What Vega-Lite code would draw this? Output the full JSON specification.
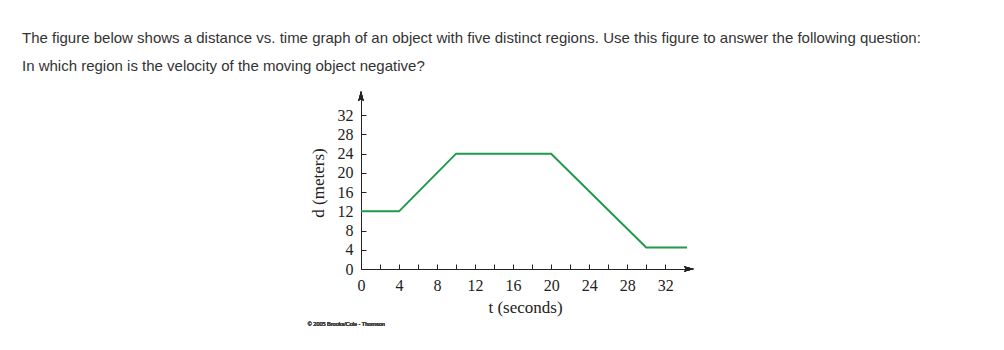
{
  "$schema": "https://vega.github.io/schema/vega-lite/v6.json",
  "width": 328,
  "height": 173,
  "autosize": {"type": "none"},
  "padding": {"left": 361, "top": 96, "right": 315, "bottom": 81},
  "background": "white",
  "title": {
    "text": "The figure below shows a distance vs. time graph of an object with five distinct regions. Use this figure to answer the following question:",
    "subtitle": "In which region is the velocity of the moving object negative?",
    "anchor": "start",
    "frame": "group",
    "dx": -339,
    "offset": 17,
    "font": "Liberation Sans",
    "fontSize": 15,
    "fontWeight": "normal",
    "color": "#333333",
    "subtitleFont": "Liberation Sans",
    "subtitleFontSize": 15,
    "subtitleColor": "#333333",
    "subtitlePadding": 13
  },
  "config": {"view": {"stroke": null}},
  "data": {
    "values": [
      {"t": 0, "d": 12},
      {"t": 4, "d": 12},
      {"t": 10, "d": 24},
      {"t": 20, "d": 24},
      {"t": 30, "d": 4.5},
      {"t": 34.3, "d": 4.5}
    ]
  },
  "layer": [
    {
      "mark": {"type": "line", "color": "#1f9a4a", "strokeWidth": 2},
      "encoding": {
        "x": {
          "field": "t", "type": "quantitative",
          "scale": {"domain": [0, 34.5], "nice": false, "zero": false},
          "axis": {
            "title": "t (seconds)",
            "titleFont": "Liberation Serif", "titleFontSize": 17, "titleFontWeight": "normal", "titleColor": "#222222",
            "titlePadding": 6,
            "values": [0, 2, 4, 6, 8, 10, 12, 14, 16, 18, 20, 22, 24, 26, 28, 30, 32],
            "labelExpr": "datum.value % 4 == 0 ? datum.label : ''",
            "labelFont": "Liberation Serif", "labelFontSize": 16, "labelColor": "#222222",
            "tickSize": -5, "tickColor": "#222222", "domainColor": "#222222",
            "labelPadding": 13, "grid": false, "labelFlush": false, "labelOverlap": false
          }
        },
        "y": {
          "field": "d", "type": "quantitative",
          "scale": {"domain": [0, 36], "nice": false},
          "axis": {
            "title": "d (meters)",
            "titleFont": "Liberation Serif", "titleFontSize": 17, "titleFontWeight": "normal", "titleColor": "#222222",
            "titlePadding": 10,
            "values": [0, 4, 8, 12, 16, 20, 24, 28, 32],
            "labelFont": "Liberation Serif", "labelFontSize": 16, "labelColor": "#222222",
            "tickSize": -5, "tickColor": "#222222", "domainColor": "#222222",
            "labelPadding": 13, "grid": false, "labelFlush": false, "labelOverlap": false
          }
        }
      }
    },
    {
      "mark": {"type": "point", "shape": "M-1,-0.55L1,0L-1,0.55L-0.6,0Z", "filled": true, "color": "#222222", "size": 100, "opacity": 1},
      "encoding": {
        "x": {"datum": 34.5, "type": "quantitative", "scale": {"domain": [0, 34.5], "nice": false, "zero": false},
          "axis": {
            "title": "t (seconds)",
            "titleFont": "Liberation Serif", "titleFontSize": 17, "titleFontWeight": "normal", "titleColor": "#222222",
            "titlePadding": 6,
            "values": [0, 2, 4, 6, 8, 10, 12, 14, 16, 18, 20, 22, 24, 26, 28, 30, 32],
            "labelExpr": "datum.value % 4 == 0 ? datum.label : ''",
            "labelFont": "Liberation Serif", "labelFontSize": 16, "labelColor": "#222222",
            "tickSize": -5, "tickColor": "#222222", "domainColor": "#222222",
            "labelPadding": 13, "grid": false, "labelFlush": false, "labelOverlap": false
          }},
        "y": {"datum": 0, "type": "quantitative", "scale": {"domain": [0, 36], "nice": false},
          "axis": {
            "title": "d (meters)",
            "titleFont": "Liberation Serif", "titleFontSize": 17, "titleFontWeight": "normal", "titleColor": "#222222",
            "titlePadding": 10,
            "values": [0, 4, 8, 12, 16, 20, 24, 28, 32],
            "labelFont": "Liberation Serif", "labelFontSize": 16, "labelColor": "#222222",
            "tickSize": -5, "tickColor": "#222222", "domainColor": "#222222",
            "labelPadding": 13, "grid": false, "labelFlush": false, "labelOverlap": false
          }}
      }
    },
    {
      "mark": {"type": "point", "shape": "M-0.55,1L0,-1L0.55,1L0,0.6Z", "filled": true, "color": "#222222", "size": 100, "opacity": 1},
      "encoding": {
        "x": {"datum": 0, "type": "quantitative", "scale": {"domain": [0, 34.5], "nice": false, "zero": false},
          "axis": {
            "title": "t (seconds)",
            "titleFont": "Liberation Serif", "titleFontSize": 17, "titleFontWeight": "normal", "titleColor": "#222222",
            "titlePadding": 6,
            "values": [0, 2, 4, 6, 8, 10, 12, 14, 16, 18, 20, 22, 24, 26, 28, 30, 32],
            "labelExpr": "datum.value % 4 == 0 ? datum.label : ''",
            "labelFont": "Liberation Serif", "labelFontSize": 16, "labelColor": "#222222",
            "tickSize": -5, "tickColor": "#222222", "domainColor": "#222222",
            "labelPadding": 13, "grid": false, "labelFlush": false, "labelOverlap": false
          }},
        "y": {"datum": 36, "type": "quantitative", "scale": {"domain": [0, 36], "nice": false},
          "axis": {
            "title": "d (meters)",
            "titleFont": "Liberation Serif", "titleFontSize": 17, "titleFontWeight": "normal", "titleColor": "#222222",
            "titlePadding": 10,
            "values": [0, 4, 8, 12, 16, 20, 24, 28, 32],
            "labelFont": "Liberation Serif", "labelFontSize": 16, "labelColor": "#222222",
            "tickSize": -5, "tickColor": "#222222", "domainColor": "#222222",
            "labelPadding": 13, "grid": false, "labelFlush": false, "labelOverlap": false
          }}
      }
    },
    {
      "mark": {"type": "text", "text": "© 2005 Brooks/Cole - Thomson", "align": "left", "baseline": "alphabetic", "font": "Liberation Sans", "fontSize": 5.5, "color": "#444444", "clip": false},
      "encoding": {
        "x": {"datum": -5.6, "type": "quantitative", "scale": {"domain": [0, 34.5], "nice": false, "zero": false},
          "axis": {
            "title": "t (seconds)",
            "titleFont": "Liberation Serif", "titleFontSize": 17, "titleFontWeight": "normal", "titleColor": "#222222",
            "titlePadding": 6,
            "values": [0, 2, 4, 6, 8, 10, 12, 14, 16, 18, 20, 22, 24, 26, 28, 30, 32],
            "labelExpr": "datum.value % 4 == 0 ? datum.label : ''",
            "labelFont": "Liberation Serif", "labelFontSize": 16, "labelColor": "#222222",
            "tickSize": -5, "tickColor": "#222222", "domainColor": "#222222",
            "labelPadding": 13, "grid": false, "labelFlush": false, "labelOverlap": false
          }},
        "y": {"datum": -11.8, "type": "quantitative", "scale": {"domain": [0, 36], "nice": false},
          "axis": {
            "title": "d (meters)",
            "titleFont": "Liberation Serif", "titleFontSize": 17, "titleFontWeight": "normal", "titleColor": "#222222",
            "titlePadding": 10,
            "values": [0, 4, 8, 12, 16, 20, 24, 28, 32],
            "labelFont": "Liberation Serif", "labelFontSize": 16, "labelColor": "#222222",
            "tickSize": -5, "tickColor": "#222222", "domainColor": "#222222",
            "labelPadding": 13, "grid": false, "labelFlush": false, "labelOverlap": false
          }}
      }
    }
  ]
}
